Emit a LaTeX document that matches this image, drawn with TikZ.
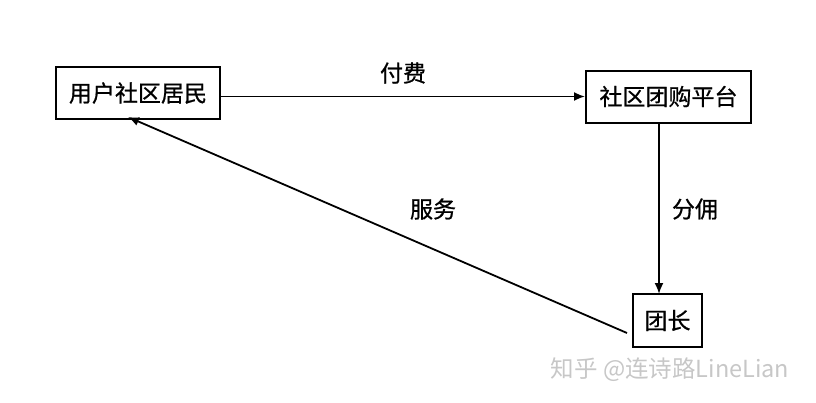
\documentclass[tikz,border=0pt]{standalone}
\usepackage{fontspec}
\setmainfont[FakeBold=0.8]{Noto Sans CJK SC}
\newfontfamily\wmfont{Noto Sans CJK SC}
\usetikzlibrary{arrows.meta}
\begin{document}
\begin{tikzpicture}[x=1pt,y=-1pt,
  box/.style={draw,line width=2pt,minimum height=52pt,inner sep=0pt,font=\fontsize{23}{25}\selectfont},
  lbl/.style={font=\fontsize{23}{25}\selectfont},
  arr/.style={line width=1.8pt,-{Latex[length=11pt,width=9pt]}}]
\useasboundingbox (0,0) rectangle (816,402);
\node[box,minimum width=164pt] (res) at (138,93) {用户社区居民};
\node[box,minimum width=165pt] (plat) at (668.5,96.5) {社区团购平台};
\node[box,minimum width=69pt,minimum height=53pt] (lead) at (667.5,320.5) {团长};
\coordinate (p1) at (659,122);
\coordinate (p2) at (659,294);
\coordinate (q1) at (627,333);
\coordinate (q2) at (128,117);
\draw[arr] ([yshift=-3.5pt]res.east) -- (plat.west);
\draw[arr] (p1) -- (p2);
\draw[arr] (q1) -- (q2);
\node[lbl] (l1) at (403,73) {付费};
\node[lbl] (l2) at (695,209) {分佣};
\node[lbl] (l3) at (433,209) {服务};
\node[font=\wmfont\fontsize{23.5}{25}\selectfont,text=black!22] (wm) at (670,370) {知乎 @连诗路LineLian};
\end{tikzpicture}
\end{document}
